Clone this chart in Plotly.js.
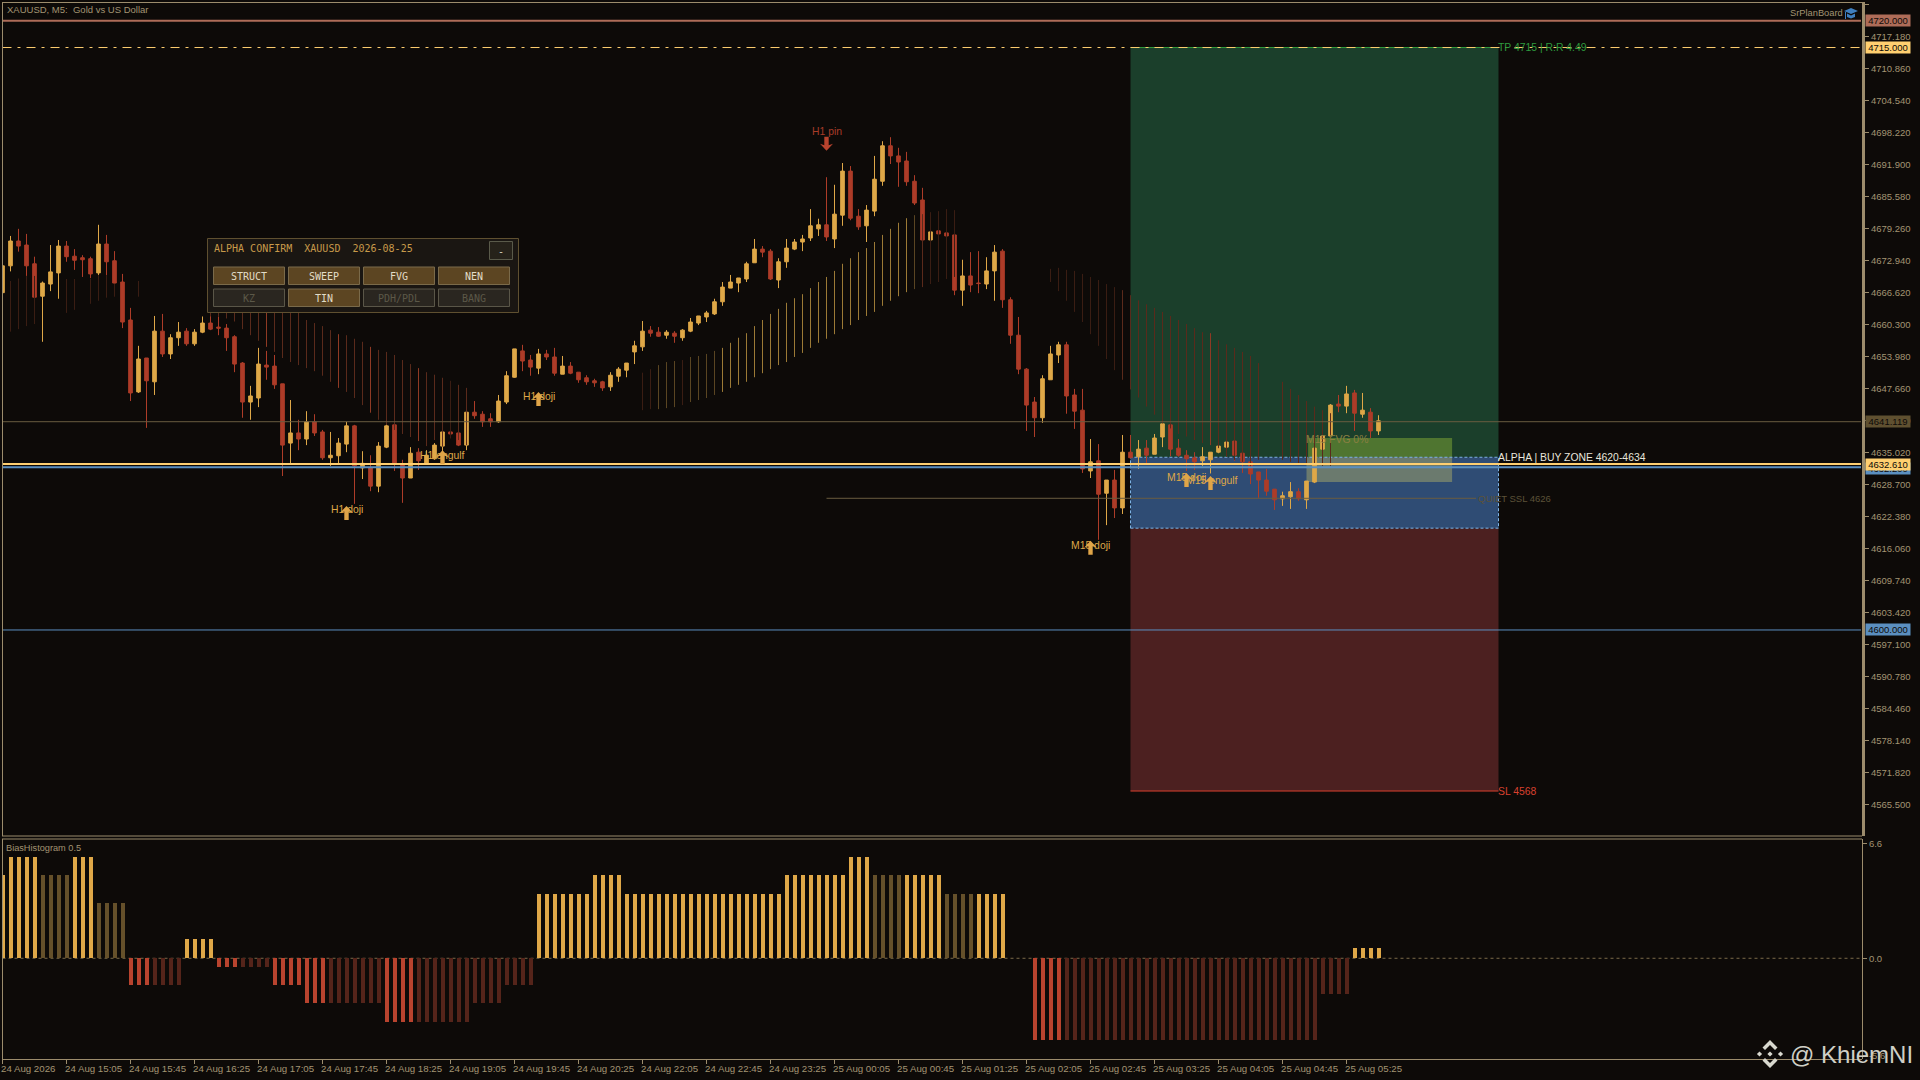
<!DOCTYPE html>
<html><head><meta charset="utf-8">
<script src="https://cdn.plot.ly/plotly-3.0.1.min.js"></script>
<style>html,body{margin:0;padding:0;background:#0d0a08}#c{width:1920px;height:1080px}</style></head>
<body><div id="c"></div>
<script>
const opens=[4666.6,4671.9,4676.8,4676.0,4672.3,4665.9,4668.3,4670.5,4675.8,4673.8,
4673.5,4673.3,4670.5,4676.2,4672.9,4668.7,4661.2,4647.0,4653.7,4649.0,
4659.0,4654.5,4657.7,4659.0,4656.5,4658.8,4660.6,4659.8,4659.6,4657.9,
4652.7,4645.0,4645.8,4652.3,4652.1,4648.6,4636.9,4638.9,4637.7,4641.1,
4639.1,4634.0,4634.4,4636.7,4640.3,4632.0,4632.0,4628.4,4636.1,4640.5,
4632.8,4630.0,4635.1,4632.9,4633.8,4636.3,4639.1,4638.9,4636.5,4643.0,
4642.6,4641.7,4641.1,4645.0,4649.9,4655.1,4653.3,4651.7,4654.5,4653.9,
4650.5,4652.1,4650.9,4649.8,4649.2,4649.0,4648.0,4650.1,4651.3,4654.9,
4655.9,4659.2,4658.8,4658.2,4658.6,4657.7,4659.0,4660.6,4661.8,4662.4,
4664.8,4667.5,4668.5,4669.3,4672.5,4675.2,4674.8,4669.1,4672.7,4675.2,
4676.6,4677.4,4679.2,4680.0,4677.2,4681.9,4690.6,4681.7,4679.8,4682.7,
4688.6,4695.6,4693.6,4692.6,4688.6,4684.9,4677.0,4678.8,4678.4,4678.0,
4667.1,4669.9,4668.5,4668.3,4670.9,4674.8,4665.2,4658.2,4651.5,4645.0,
4641.9,4649.4,4654.3,4656.3,4646.4,4643.4,4631.4,4633.4,4627.0,4629.6,
4624.1,4635.1,4634.2,4635.9,4634.7,4638.1,4640.5,4635.9,4634.5,4634.0,
4633.4,4633.6,4635.1,4636.1,4637.3,4634.9,4633.2,4631.2,4629.6,4627.8,
4625.9,4626.3,4627.3,4625.7,4629.2,4635.7,4638.3,4644.6,4644.2,4646.8,
4642.6,4643.0,4639.3];
const closes=[4671.9,4676.8,4675.8,4671.9,4665.7,4668.5,4670.7,4675.8,4673.7,4673.0,
4673.1,4670.3,4676.2,4672.7,4668.5,4660.8,4646.8,4653.5,4649.2,4659.0,
4654.5,4657.7,4658.8,4656.5,4658.8,4660.6,4659.4,4659.6,4657.7,4652.5,
4645.0,4646.2,4652.5,4651.9,4648.4,4636.5,4638.9,4637.7,4641.1,4638.9,
4634.0,4634.5,4636.9,4640.3,4632.4,4632.9,4628.4,4636.3,4640.3,4632.8,
4630.0,4634.9,4633.4,4634.5,4636.5,4639.1,4638.7,4636.5,4643.0,4642.3,
4641.1,4641.1,4645.2,4650.2,4655.5,4653.1,4651.9,4654.5,4653.9,4650.7,
4652.1,4650.7,4649.4,4649.0,4648.8,4647.8,4650.3,4651.5,4652.7,4656.1,
4659.0,4658.6,4658.0,4658.8,4658.0,4659.2,4660.8,4662.0,4662.6,4664.8,
4667.7,4668.7,4669.5,4672.3,4675.2,4674.6,4669.3,4672.7,4675.4,4676.6,
4677.2,4679.8,4680.0,4677.6,4682.1,4690.6,4681.3,4679.6,4682.9,4689.0,
4695.6,4693.6,4692.4,4688.5,4684.3,4677.0,4678.6,4678.2,4677.8,4667.1,
4669.9,4668.1,4668.4,4670.9,4674.6,4665.2,4658.2,4651.5,4644.4,4641.9,
4649.6,4654.5,4656.3,4646.2,4643.2,4631.8,4633.2,4626.8,4629.6,4624.1,
4635.1,4634.0,4635.7,4634.5,4637.9,4640.7,4635.7,4634.5,4633.8,4633.2,
4634.2,4635.1,4636.3,4637.1,4634.5,4633.2,4630.8,4629.6,4627.4,4625.7,
4626.5,4627.3,4625.9,4629.4,4635.9,4638.3,4644.4,4644.2,4646.6,4642.8,
4643.4,4639.3,4641.3];
const highs=[4672.4,4677.8,4679.2,4678.2,4673.7,4668.8,4676.0,4677.0,4676.8,4675.2,
4674.0,4673.7,4680.0,4678.0,4674.8,4670.3,4663.6,4656.1,4653.7,4662.0,
4662.4,4658.4,4660.8,4659.6,4659.4,4661.9,4662.7,4661.9,4660.4,4658.2,
4652.9,4648.2,4655.7,4655.1,4654.3,4648.6,4645.4,4641.5,4643.2,4642.6,
4639.5,4639.1,4637.9,4641.1,4640.5,4635.3,4634.5,4637.1,4641.1,4640.5,
4633.6,4636.1,4635.9,4635.5,4636.9,4639.1,4639.2,4638.9,4643.0,4645.2,
4643.2,4642.8,4646.4,4651.1,4655.5,4656.3,4654.3,4655.5,4655.3,4655.7,
4654.1,4652.9,4650.9,4650.3,4649.6,4649.2,4650.9,4651.9,4652.7,4657.1,
4661.0,4660.0,4659.8,4659.2,4659.0,4659.4,4661.6,4662.0,4663.0,4665.4,
4668.7,4670.1,4669.5,4672.7,4677.2,4675.8,4675.2,4673.4,4677.2,4677.2,
4678.0,4683.1,4681.2,4689.4,4687.9,4692.2,4691.6,4683.1,4683.9,4693.6,
4696.5,4697.3,4695.2,4694.4,4689.8,4687.3,4678.6,4678.9,4678.5,4678.0,
4673.1,4674.6,4674.8,4673.6,4676.0,4675.2,4665.7,4661.8,4651.7,4646.0,
4650.3,4656.1,4656.9,4656.9,4647.6,4647.6,4637.7,4636.7,4629.6,4631.6,
4638.5,4638.5,4637.5,4637.5,4638.7,4640.7,4640.5,4637.7,4635.5,4635.1,
4636.1,4635.1,4636.3,4637.1,4637.3,4634.9,4633.2,4631.2,4631.8,4627.8,
4627.3,4629.2,4628.0,4629.4,4635.9,4638.3,4644.6,4646.4,4648.2,4647.4,
4646.8,4643.8,4642.4];
const lows=[4666.1,4670.8,4674.7,4669.9,4665.7,4656.9,4666.9,4665.4,4672.7,4671.1,
4669.7,4669.5,4669.9,4669.9,4665.9,4659.6,4645.2,4646.8,4639.9,4646.4,
4653.9,4653.5,4656.1,4656.1,4656.1,4658.6,4659.2,4658.2,4655.1,4650.9,
4641.9,4641.5,4644.0,4649.4,4647.6,4630.4,4632.8,4635.5,4636.5,4638.3,
4633.6,4632.4,4632.8,4635.1,4624.9,4629.8,4627.4,4627.2,4635.9,4631.4,
4625.1,4630.0,4631.6,4632.6,4633.6,4632.8,4638.6,4636.3,4635.5,4641.7,
4640.1,4640.1,4640.9,4644.6,4649.8,4651.1,4650.2,4650.5,4653.3,4650.2,
4650.5,4650.5,4648.8,4648.4,4648.0,4647.2,4647.2,4649.0,4649.9,4652.5,
4655.1,4657.9,4657.9,4657.5,4656.7,4657.1,4658.8,4660.2,4660.8,4662.2,
4664.0,4667.5,4666.7,4668.7,4672.5,4673.6,4669.1,4667.5,4671.5,4675.0,
4674.8,4676.8,4677.8,4676.8,4675.4,4679.8,4680.9,4679.0,4676.6,4681.7,
4687.7,4692.0,4687.5,4687.7,4683.9,4677.0,4677.0,4678.2,4677.8,4666.1,
4664.0,4666.7,4666.5,4667.3,4665.0,4663.6,4656.5,4650.5,4639.3,4638.1,
4640.9,4649.4,4652.7,4642.7,4639.7,4631.0,4630.0,4617.8,4620.7,4622.1,
4622.9,4634.0,4631.8,4632.8,4634.7,4636.1,4634.3,4634.2,4631.4,4631.6,
4632.4,4630.9,4634.9,4636.1,4633.4,4631.0,4628.8,4626.1,4626.5,4623.7,
4624.5,4623.9,4625.5,4623.9,4629.0,4635.7,4638.3,4643.0,4642.8,4639.3,
4641.9,4637.9,4638.5];

// Faded range lines drawn behind the candles: [bar, high, low, shade]
const bandBars=[1,2,3,4,8,9,11,12,13,14,17,26,27,28,29,30,31,32,33,34,35,36,37,38,39,40,41,42,43,44,45,46,47,48,49,50,51,52,53,54,55,56,57,58,
80,81,82,83,84,85,86,87,88,89,90,91,92,93,94,95,96,97,98,99,100,101,102,103,104,105,106,107,108,109,110,111,112,113,114,115,116,117,118,119,
131,132,133,134,135,136,137,138,139,140,141,142,143,144,145,146,147,148,149,150,151,152,153,154,155,156,157,160,161,162,163,164,165,166];
const bandHigh=[4668.9,4669.4,4669.9,4669.9,4669.3,4669.3,4669.4,4670.1,4670.1,4668.4,4668.9,4668.0,4668.0,4668.0,4667.5,4667.0,4666.5,4666.0,4665.5,4665.0,4664.5,4664.0,4663.5,4661.2,4660.6,4660.0,4659.2,4658.4,4658.2,4657.5,4656.9,4655.9,4655.3,4654.9,4654.3,4653.3,4652.5,4651.7,4650.9,4650.4,4649.8,4649.2,4648.4,4647.8,
4650.8,4651.5,4652.3,4652.9,4653.1,4653.3,4653.9,4654.1,4654.5,4655.1,4655.7,4656.7,4657.7,4658.6,4660.0,4661.2,4662.4,4663.4,4664.6,4665.5,4666.3,4667.5,4668.7,4669.7,4670.9,4672.3,4673.4,4674.6,4675.4,4676.6,4678.0,4679.2,4680.4,4681.3,4681.9,4682.1,4682.5,4682.7,4683.1,4682.9,
4671.3,4671.5,4671.1,4670.9,4670.3,4669.7,4669.1,4668.3,4667.7,4667.1,4666.1,4665.1,4664.3,4663.6,4662.8,4662.0,4661.2,4660.4,4659.6,4658.8,4658.6,4657.2,4656.4,4655.7,4654.9,4654.1,4652.7,4649.0,4647.6,4646.4,4645.2,4644.1,4643.4,4642.8];
const bandLow=[4658.9,4659.4,4660.0,4660.4,4662.6,4663.2,4664.4,4665.0,4665.6,4665.9,4665.8,4661.9,4661.9,4661.5,4660.9,4659.4,4658.2,4657.1,4655.9,4654.9,4653.7,4652.9,4652.3,4651.7,4651.1,4650.2,4649.0,4647.8,4647.0,4645.8,4644.4,4642.9,4641.5,4640.5,4639.5,4638.7,4638.1,4637.3,4636.3,4637.5,4636.2,4637.8,4637.5,4636.5,
4643.4,4643.6,4643.6,4643.8,4644.0,4644.4,4645.0,4645.4,4645.8,4646.4,4647.0,4647.8,4648.4,4649.0,4649.9,4650.7,4651.5,4652.3,4652.9,4653.9,4654.7,4655.7,4656.7,4657.5,4658.4,4659.4,4660.2,4661.2,4662.0,4662.8,4664.0,4665.0,4665.9,4666.7,4667.3,4667.7,4668.3,4668.7,4669.3,4669.7,
4668.7,4666.9,4665.0,4662.8,4660.8,4658.4,4656.1,4653.5,4651.3,4649.4,4647.5,4645.9,4644.1,4642.5,4640.8,4639.8,4638.7,4638.2,4637.5,4636.9,4636.5,4635.9,4634.2,4633.6,4633.2,4632.2,4633.6,4633.6,4633.2,4632.9,4632.9,4632.6,4632.4,4632.4];
const bandShade=[0,0,0,0,0,0,0,0,0,0,0,1,1,1,1,1,1,1,2,1,1,1,1,1,1,1,1,2,1,1,1,2,1,1,1,1,1,2,1,1,1,0,1,1,
0,0,3,3,3,0,3,3,3,3,4,4,4,4,4,4,4,4,4,4,4,4,4,4,4,4,4,4,4,4,4,4,4,4,3,1,0,0,0,0,
0,0,0,0,0,0,0,0,0,1,1,1,1,1,1,1,1,1,1,1,2,1,1,1,1,1,1,1,1,1,1,1,1,1];
const bandColors=['#3a1d13','#5a2a1b','#8f3a24','#5a4522','#9c7a36'];

const histValues=[4.8,5.8,5.8,5.8,5.8,4.8,4.8,4.8,4.8,5.8,5.8,5.8,3.2,3.2,3.2,3.2,
-1.53,-1.53,-1.53,-1.53,-1.53,-1.53,-1.53,1.1,1.1,1.1,1.1,-0.5,-0.5,-0.5,-0.5,-0.5,-0.5,-0.5,
-1.53,-1.53,-1.53,-1.53,-2.57,-2.57,-2.57,-2.57,-2.57,-2.57,-2.57,-2.57,-2.57,-2.57,
-3.67,-3.67,-3.67,-3.67,-3.67,-3.67,-3.67,-3.67,-3.67,-3.67,-3.67,-2.57,-2.57,-2.57,-2.57,-1.53,-1.53,-1.53,-1.53,
3.7,3.7,3.7,3.7,3.7,3.7,3.7,4.8,4.8,4.8,4.8,
3.7,3.7,3.7,3.7,3.7,3.7,3.7,3.7,3.7,3.7,3.7,3.7,3.7,3.7,3.7,3.7,3.7,3.7,3.7,3.7,
4.8,4.8,4.8,4.8,4.8,4.8,4.8,4.8,5.8,5.8,5.8,4.8,4.8,4.8,4.8,4.8,4.8,4.8,4.8,4.8,
3.7,3.7,3.7,3.7,3.7,3.7,3.7,3.7,0,0,0,
-4.7,-4.7,-4.7,-4.7,-4.7,-4.7,-4.7,-4.7,-4.7,-4.7,-4.7,-4.7,-4.7,-4.7,-4.7,-4.7,-4.7,-4.7,-4.7,-4.7,-4.7,-4.7,-4.7,-4.7,-4.7,-4.7,-4.7,-4.7,-4.7,-4.7,-4.7,-4.7,-4.7,-4.7,-4.7,-4.7,
-2.05,-2.05,-2.05,-2.05,0.59,0.59,0.59,0.59];
const histBright=[1,1,1,1,1,0,0,0,0,1,1,1,0,0,0,0,
1,1,1,0,0,0,0,1,1,1,1,1,1,1,0,0,0,0,
1,1,1,1,1,1,1,0,0,0,0,0,0,0,
1,1,1,1,0,0,0,0,0,0,0,0,0,0,0,0,0,0,0,
1,1,1,1,1,1,1,1,1,1,1,
1,1,1,1,1,1,1,1,1,1,1,1,1,1,1,1,1,1,1,1,
1,1,1,1,1,1,1,1,1,1,1,0,0,0,0,1,1,1,1,1,
0,0,0,0,1,1,1,1,1,1,1,
1,1,1,1,0,0,0,0,0,0,0,0,0,0,0,0,0,0,0,0,0,0,0,0,0,0,0,0,0,0,0,0,0,0,0,0,
0,0,0,0,1,1,1,1];

const timeLabels=['24 Aug 2026','24 Aug 15:05','24 Aug 15:45','24 Aug 16:25','24 Aug 17:05','24 Aug 17:45','24 Aug 18:25','24 Aug 19:05','24 Aug 19:45','24 Aug 20:25','24 Aug 22:05','24 Aug 22:45','24 Aug 23:25','25 Aug 00:05','25 Aug 00:45','25 Aug 01:25','25 Aug 02:05','25 Aug 02:45','25 Aug 03:25','25 Aug 04:05','25 Aug 04:45','25 Aug 05:25'];
const timeTicks=[0,8,16,24,32,40,48,56,64,72,80,88,96,104,112,120,128,136,144,152,160,168];
const priceTicks=[4723.5,4717.18,4710.86,4704.54,4698.22,4691.9,4685.58,4679.26,4672.94,4666.62,4660.3,4653.98,4647.66,4641.34,4635.02,4628.7,4622.38,4616.06,4609.74,4603.42,4597.1,4590.78,4584.46,4578.14,4571.82,4565.5];
const histTicks=[6.6,0,-5.6];
const histTickText=['6.6','0.0','-5.6'];

// Levels
const LV={stopHigh:4720.3,tp:4715,last:4641.119,bid:4632.75,ask:4632.15,round:4600,quiet:4626,zoneTop:4634.1,zoneBot:4620.1,sl:4568.2,fvgTop:4637.9,fvgBot:4629.2};

const YEL='#dfa848',RED='#ad3c28',FRAME='#9c8c6c',TICK='#a39473',BG='#0d0a08';
const px=v=>v/1920, py=v=>1-v/1080;
const mono='"DejaVu Sans Mono",monospace', sans='"Liberation Sans",Arial,sans-serif';

const idx=opens.map((_,i)=>i);
const traces=[];
// band lines
bandColors.forEach((c,k)=>{
  const x=[],y=[];
  bandBars.forEach((b,j)=>{ if(bandShade[j]===k){x.push(b,b,null);y.push(bandHigh[j],bandLow[j],null);} });
  traces.push({type:'scatter',mode:'lines',x,y,yaxis:'y',line:{color:c,width:1},hoverinfo:'skip',connectgaps:false,showlegend:false});
});
traces.push({type:'candlestick',x:idx,open:opens,high:highs,low:lows,close:closes,yaxis:'y',
  increasing:{line:{color:YEL,width:1},fillcolor:YEL},decreasing:{line:{color:RED,width:1},fillcolor:RED},
  whiskerwidth:0,hoverinfo:'skip',showlegend:false});
traces.push({type:'bar',x:idx,y:histValues,yaxis:'y2',width:0.5,hoverinfo:'skip',showlegend:false,
  marker:{line:{width:0},color:histValues.map((v,i)=>v>=0?(histBright[i]?YEL:'#65502a'):(histBright[i]?'#b8432e':'#55241a'))}});

const hline=(y,c,w,dash,x0,x1)=>({type:'line',xref:x0===undefined?'paper':'x',yref:'y',x0:x0===undefined?px(2.5):x0,x1:x1===undefined?px(1861):x1,y0:y,y1:y,line:{color:c,width:w,dash:dash||'solid'},layer:'above'});
const rect=(x0,x1,y0,y1,fill,ln)=>({type:'rect',xref:'x',yref:'y',x0,x1,y0,y1,fillcolor:fill,line:ln||{width:0},layer:'below'});
const box=(l,t,r,b,fill,lc)=>({type:'rect',xref:'paper',yref:'paper',x0:px(l),x1:px(r),y0:py(b),y1:py(t),fillcolor:fill,line:{color:lc,width:1},layer:'above'});
const frame=(x0,y0,x1,y1,w)=>({type:'line',xref:'paper',yref:'paper',x0:px(x0),x1:px(x1),y0:py(y0),y1:py(y1),line:{color:FRAME,width:w||1},layer:'above'});
const polyPath=pts=>'M'+pts.map(p=>px(p[0])+','+py(p[1])).join('L')+'Z';
const poly=(pts,c)=>({type:'path',xref:'paper',yref:'paper',path:polyPath(pts),fillcolor:c,line:{width:0},layer:'above'});

const ZX0=141,ZX1=187;
const shapes=[
  rect(ZX0,ZX1,LV.zoneTop,LV.tp,'#1b3f2b'),
  rect(ZX0,ZX1,LV.sl,LV.zoneBot,'#4c2020'),
  rect(ZX0,ZX1,LV.zoneBot,LV.zoneTop,'#2f4c74'),
  rect(163.2,181.2,LV.zoneTop,LV.fvgTop,'#4f7530'),
  rect(163,181.2,LV.fvgBot,LV.zoneTop,'#6b7a6e'),
  {type:'rect',xref:'x',yref:'y',x0:ZX0,x1:ZX1,y0:LV.zoneBot,y1:LV.zoneTop,line:{color:'#7db4e6',width:1,dash:'3px,2px'},layer:'below'},
  {type:'line',xref:'x',yref:'y',x0:ZX0,x1:ZX1,y0:LV.tp,y1:LV.tp,line:{color:'#2e9a3e',width:1},layer:'below'},
  {type:'line',xref:'x',yref:'y',x0:ZX0,x1:ZX1,y0:LV.sl,y1:LV.sl,line:{color:'#d8412f',width:1},layer:'below'},
  hline(LV.stopHigh,'#ae6c58',2),
  hline(LV.tp,'#ffcf70',1,'9px,6px,3px,6px'),
  hline(LV.last,'#6a5c40',1),
  hline(LV.round,'#5b8fc0',1),
  hline(LV.quiet,'#6a5c40',1,'solid',103,184.2),
  hline(LV.ask,'#5b8fc0',2),
  hline(LV.bid,'#ffcf70',2),
  // frame
  frame(2,2.5,1862,2.5), frame(2.5,2,2.5,836), frame(2,836,1862,836), frame(2,839,1862,839), frame(2,1059.5,1862,1059.5), frame(2.5,839,2.5,1059.5),
  {type:'line',xref:'paper',yref:'y2',x0:px(2.5),x1:px(1861),y0:0,y1:0,line:{color:'#7a6a4a',width:1,dash:'3px,3px'},layer:'below'},
  // panel
  box(207.5,238.5,518.5,312.5,'#1a1612','#5f5030'),
  box(489.5,241.5,512.5,259.5,'#26221a','#5a5a4a'),
];
const btnX=[213.5,288.5,363.5,438.5];
const btnLabels=['STRUCT','SWEEP','FVG','NEN','KZ','TIN','PDH/PDL','BANG'];
const btnOn=[1,1,1,1,0,1,0,0];
const anns=[];
const fnt=(s,c,f)=>({family:f||sans,size:s,color:c});
const txt=(t,x,y,c,o)=>Object.assign({text:t,x,y,xref:'x',yref:'y',xanchor:'left',yanchor:'middle',showarrow:false,font:fnt(10.4,c),borderpad:0},o||{});
const ptxt=(t,l,tp,c,o)=>Object.assign({text:t,x:px(l),y:py(tp),xref:'paper',yref:'paper',xanchor:'left',yanchor:'middle',showarrow:false,font:fnt(9.5,c),borderpad:0},o||{});
btnLabels.forEach((b,k)=>{
  const col=k%4, row=k<4?0:1, l=btnX[col], t=row?289:267;
  shapes.push(box(l,t,l+71,t+17.5,btnOn[k]?'#5c4522':'#2a2620',btnOn[k]?'#7a6a4a':'#5a5648'));
  anns.push(ptxt(b,l+35.5,t+9,btnOn[k]?'#e2dcc8':'#5c5848',{xanchor:'center',font:fnt(10,btnOn[k]?'#e2dcc8':'#5c5848',mono)}));
});
anns.push(ptxt('ALPHA CONFIRM\u00a0\u00a0XAUUSD\u00a0\u00a02026-08-25',212.5,248.5,'#c89a4a',{font:fnt(10,'#c89a4a',mono)}));
anns.push(ptxt('-',501,251,'#d8d4c0',{xanchor:'center',font:fnt(10,'#d8d4c0',mono)}));
// chart labels
anns.push(ptxt('XAUUSD, M5:\u00a0\u00a0Gold vs US Dollar',5.5,9.5,TICK));
anns.push(ptxt('SrPlanBoard',1788.5,13.5,TICK,{font:fnt(9.3,TICK)}));
anns.push(ptxt('BiasHistogram 0.5',5,847.5,TICK,{font:fnt(9.2,TICK)}));
anns.push(txt('TP 4715 | R:R 4.49',187,LV.tp,'#2e9a3e',{xshift:-2}));
anns.push(txt('ALPHA | BUY ZONE 4620-4634',187,LV.zoneTop,'#e8e6dc',{xshift:-2}));
anns.push(txt('SL 4568',187,LV.sl,'#d8412f',{xshift:-2}));
anns.push(txt('QUIET SSL 4626',184.3,LV.quiet,'#5c5238',{font:fnt(9.5,'#5c5238')}));
anns.push(txt('M15 FVG 0%',163,4637.6,'#8c7f42',{xshift:-2}));
// pattern labels
const patText=['H1 pin','H1 doji','H1 engulf','H1 doji','M15 doji','M15 doji','M15 engulf'];
const patBar=[103,43,55,67,136,148,151.2];
const patPrice=[4698.5,4623.7,4634.5,4646.0,4616.6,4630.2,4629.6];
const patArrow=[4694.6,4624.5,4635.5,4647.0,4617.6,4631.0,4630.4];
const patUp=[0,1,1,1,1,1,1];
const upArrow='M0,0 L6.5,-7 L2.2,-5.5 L2.2,-14 L-2.2,-14 L-2.2,-5.5 L-6.5,-7 Z';
const downArrow='M0,0 L6.5,7 L2.2,5.5 L2.2,14 L-2.2,14 L-2.2,5.5 L-6.5,7 Z';
patText.forEach((t,k)=>{
  const c=patUp[k]?'#dfa848':'#a83c28';
  anns.push(txt(t,patBar[k],patPrice[k],c,{xanchor:'center'}));
  shapes.push({type:'path',xsizemode:'pixel',ysizemode:'pixel',xref:'x',yref:'y',xanchor:Math.round(patBar[k]),yanchor:patArrow[k],
    path:patUp[k]?upArrow:downArrow,fillcolor:patUp[k]?'#e0a548':'#b8432e',line:{width:0},layer:'above'});
});
// axis price tags
const tag=(t,y,bg,fg)=>({text:t,x:px(1865),y,xref:'paper',yref:'y',xanchor:'left',yanchor:'middle',showarrow:false,width:44,height:11,bgcolor:bg,borderpad:0,align:'center',font:fnt(9.5,fg)});
anns.push(tag('4720.000',LV.stopHigh,'#ae6c58','#0d0a08'));
anns.push(tag('4715.000',LV.tp,'#ffcf70','#0d0a08'));
anns.push(tag('4641.119',LV.last,'#5f5030','#0d0a08'));
anns.push(tag('4632.200',LV.ask-0.2,'#5b8fc0','#0d0a08'));
anns.push(tag('4632.610',LV.bid,'#ffcf70','#0d0a08'));
anns.push(tag('4600.000',LV.round,'#5b8fc0','#0d0a08'));
// watermark
anns.push(ptxt('@ KhiemNI',1789,1054,'#cfcfc6',{font:fnt(24,'#cfcfc6')}));

// cap icon
shapes.push(poly([[1844,11],[1851,8],[1858,11],[1851,14]],'#3f7fbf'));
shapes.push(poly([[1847,13.5],[1851,15.5],[1855,13.5],[1855,17],[1851,18.5],[1847,17]],'#3f7fbf'));
shapes.push(poly([[1845,12],[1846,12],[1846,19],[1845,19]],'#3f7fbf'));
// exchange mark
const MK='#d8d8cf',cx=1770,cy=1054;
const dia=(x,y,r)=>[[x-r,y],[x,y-r],[x+r,y],[x,y+r]];
shapes.push(poly(dia(cx,cy,2.6),MK));shapes.push(poly(dia(cx-10.5,cy,2.6),MK));shapes.push(poly(dia(cx+10.5,cy,2.6),MK));
shapes.push(poly([[cx,cy-14],[cx+7.5,cy-6.5],[cx+5,cy-4],[cx,cy-9],[cx-5,cy-4],[cx-7.5,cy-6.5]],MK));
shapes.push(poly([[cx,cy+14],[cx+7.5,cy+6.5],[cx+5,cy+4],[cx,cy+9],[cx-5,cy+4],[cx-7.5,cy+6.5]],MK));

const layout={
  width:1920,height:1080,autosize:false,showlegend:false,
  margin:{l:0,r:0,t:0,b:0,pad:0},paper_bgcolor:BG,plot_bgcolor:BG,
  font:{family:sans,size:10,color:TICK},dragmode:false,boxgap:0.35,bargap:0,
  xaxis:{domain:[px(2.5),px(1862)],range:[0,(1862-2.5)/8],anchor:'y2',rangeslider:{visible:false},showgrid:false,zeroline:false,
    tickmode:'array',tickvals:timeTicks,ticktext:timeLabels,ticks:'outside',ticklen:4,tickcolor:FRAME,tickwidth:1,tickangle:0,ticklabelposition:'outside right',ticklabelshift:-2,automargin:false,
    tickfont:fnt(9.7,TICK),showline:false},
  yaxis:{domain:[py(836),py(2)],range:[4559.32,4723.99],side:'right',anchor:'x',showgrid:false,zeroline:false,showline:true,linecolor:FRAME,linewidth:3,
    tickmode:'array',tickvals:priceTicks,tickformat:'.3f',ticks:'outside',ticklen:4,tickcolor:FRAME,tickwidth:1,tickfont:fnt(9.5,TICK)},
  yaxis2:{domain:[py(1059.3),py(838.7)],range:[-5.8,6.866],side:'right',anchor:'x',showgrid:false,zeroline:false,showline:true,linecolor:FRAME,linewidth:1,
    tickmode:'array',tickvals:histTicks,ticktext:histTickText,ticks:'outside',ticklen:4,tickcolor:FRAME,tickwidth:1,tickfont:fnt(9.5,TICK)},
  shapes,annotations:anns
};
Plotly.newPlot('c',traces,layout,{displayModeBar:false,staticPlot:true,responsive:false});
</script></body></html>
